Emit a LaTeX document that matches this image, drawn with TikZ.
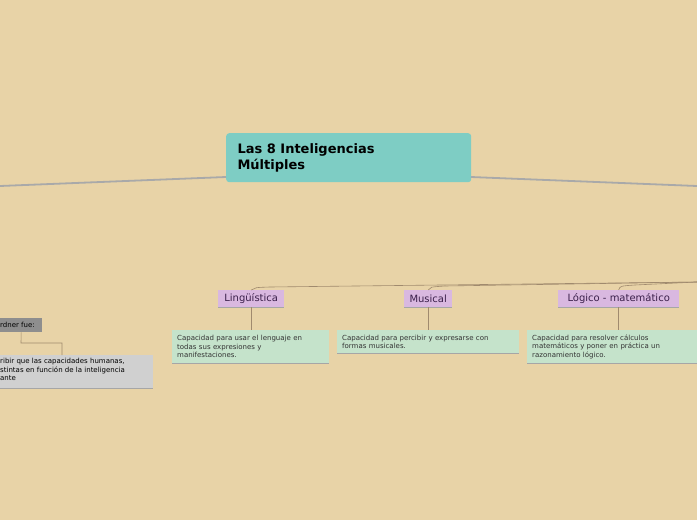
\documentclass[tikz,border=0pt]{standalone}
\usepackage{fontspec}
\setmainfont{DejaVu Sans}
\definecolor{bg}{HTML}{E8D3A7}
\definecolor{teal}{HTML}{7ECDC4}
\definecolor{lila}{HTML}{D9B8E0}
\definecolor{verde}{HTML}{C5E3CB}
\definecolor{gris}{HTML}{8E8E8E}
\definecolor{grisc}{HTML}{D0D0D0}
\definecolor{cafe}{HTML}{A08A6E}
\definecolor{linea}{HTML}{A9A9A9}
\definecolor{tx}{HTML}{3A1F4A}
\begin{document}
\begin{tikzpicture}[x=1pt,y=-1pt,
  cat/.style={fill=lila,text=tx,font=\fontsize{10}{12}\selectfont,inner sep=0pt,minimum height=17pt,anchor=north west},
  desc/.style={fill=verde,text=black!80,font=\fontsize{7}{8.5}\selectfont,align=left,inner xsep=5pt,inner ysep=0pt,anchor=north west,text width=#1},
  con/.style={cafe,line width=0.6pt}]
\clip (0,0) rectangle (697,520);
\fill[bg] (0,0) rectangle (697,520);
% title
\node[fill=teal,rounded corners=3pt,minimum width=245pt,minimum height=49pt,anchor=north west] (t) at (226,133) {};
\node[anchor=west,align=left,font=\bfseries\fontsize{13}{16}\selectfont] (tt) at (234,157.5) {Las 8 Inteligencias\\Múltiples};
\coordinate (l0) at (0,186);
\coordinate (r0) at (697,186);
\draw[linea,line width=1.8pt] (226,177) -- (l0);
\draw[linea,line width=1.8pt] (471,177) -- (r0);
% categories
\node[cat,minimum width=66pt] (c1) at (218,290) {Lingüística};
\node[cat,minimum width=48pt] (c2) at (404,290) {Musical};
\node[cat,minimum width=121pt] (c3) at (558,290) {Lógico - matemático};
\foreach \c in {c1,c2,c3}{\draw[black!35,line width=0.8pt] (\c.south west) -- (\c.south east);}
\coordinate (hub) at (697,282);
\draw[con] (hub) -- (270,287) .. controls (255,287.5) .. (c1.north);
\draw[con] (hub) -- (445,286) .. controls (430,287) .. (c2.north);
\draw[con] (hub) -- (635,285) .. controls (620,286) .. (c3.north);
% descriptions
\node[desc=147pt,minimum height=33pt] (d1) at (172,330) {Capacidad para usar el lenguaje en\\todas sus expresiones y\\manifestaciones.};
\node[desc=172pt,minimum height=23pt] (d2) at (337,330) {Capacidad para percibir y expresarse con\\formas musicales.};
\node[desc=175pt,minimum height=33pt] (d3) at (527,330) {Capacidad para resolver cálculos\\matemáticos y poner en práctica un\\razonamiento lógico.};
\foreach \d in {d1,d2,d3}{\draw[black!35,line width=0.8pt] (\d.south west) -- (\d.south east);}
\draw[con] (c1.south) -- (d1.north -| c1.south);
\draw[con] (c2.south) -- (d2.north -| c2.south);
\draw[con] (c3.south) -- (d3.north -| c3.south);
% left partial nodes
\node[fill=gris,anchor=north west,minimum width=42pt,minimum height=14pt,inner sep=0pt] (g1) at (0,318) {};
\node[anchor=west,font=\fontsize{7}{8}\selectfont,inner sep=0pt] at (0,325) {rdner fue:};
\node[fill=grisc,anchor=north west,minimum width=153pt,minimum height=33pt,inner sep=0pt] (g2) at (0,355) {};
\node[anchor=north west,align=left,font=\fontsize{7}{8.5}\selectfont,inner sep=0pt] at (0,358) {ribir que las capacidades humanas,\\stintas en función de la inteligencia\\ante};
\draw[black!35,line width=0.8pt] (g2.south west) -- (g2.south east);
\draw[con] (g1.south) -- (21,343) -- (62,343) -- (62,355);
\end{tikzpicture}
\end{document}
